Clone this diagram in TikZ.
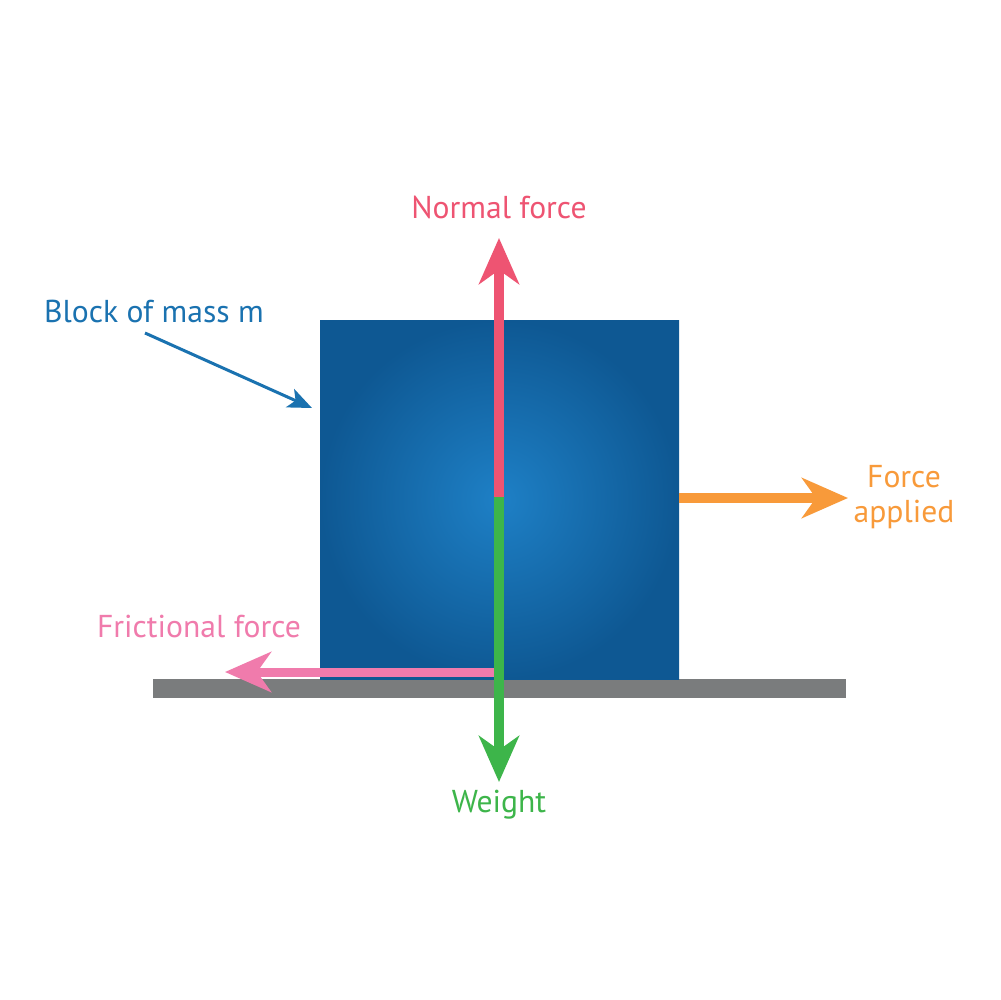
\documentclass[tikz,border=0pt]{standalone}
\usepackage{fontspec}
\setmainfont{PT Sans}
\usetikzlibrary{arrows.meta}
\definecolor{blockdark}{HTML}{0E5893}
\definecolor{blocklight}{HTML}{1E80C6}
\definecolor{redf}{HTML}{EE5472}
\definecolor{greenf}{HTML}{3DB54A}
\definecolor{orangef}{HTML}{F89A3A}
\definecolor{pinkf}{HTML}{F07BAC}
\definecolor{groundc}{HTML}{7A7C7D}
\definecolor{labelblue}{HTML}{1A72B0}
\tikzset{
  force/.style={line width=10*0.1mm, -{Stealth[length=46*0.1mm, width=40*0.1mm, inset=14*0.1mm]}},
  lbl/.style={font=\fontsize{9}{11}\selectfont, inner sep=0pt, align=center},
}
\begin{document}
\begin{tikzpicture}[x=0.1mm, y=-0.1mm]
\useasboundingbox (0,0) rectangle (1000,1000);
\fill[white] (0,0) rectangle (1000,1000);
% ground
\fill[groundc] (153,679) rectangle (846,698);
% block
\node[draw=none, minimum width=359*0.1mm, minimum height=359*0.1mm, inner sep=0pt,
      inner color=blocklight, outer color=blockdark] (block) at (499.5,499.5) {};
\coordinate (c) at (499,497);
\coordinate (nTip) at (499,238);
\coordinate (wTip) at (499,782);
\coordinate (fStart) at (679,498);
\coordinate (fTip) at (848,498);
\coordinate (frStart) at (499,672);
\coordinate (frTip) at (225,672);
% forces
\draw[force, pinkf, line width=9*0.1mm] (frStart) -- (frTip);
\draw[force, redf] (c) -- (nTip);
\draw[force, greenf] (c) -- (wTip);
\draw[force, orangef] (fStart) -- (fTip);
% labels
\node[lbl, text=redf] (nlab) at (499,207) {Normal force};
\node[lbl, text=greenf] (wlab) at (499,805) {Weight};
\node[lbl, text=orangef, font=\fontsize{9}{10}\selectfont] (flab) at (904,497) {Force\\applied};
\node[lbl, text=pinkf] (frlab) at (199,626) {Frictional force};
\node[lbl, text=labelblue] (blab) at (154,311) {Block of mass m};
\coordinate (bStart) at (145,333);
\coordinate (bTip) at (312,408);
\draw[labelblue, line width=3*0.1mm, -{Stealth[length=24*0.1mm, width=20*0.1mm, inset=6*0.1mm]}] (bStart) -- (bTip);
\end{tikzpicture}
\end{document}
